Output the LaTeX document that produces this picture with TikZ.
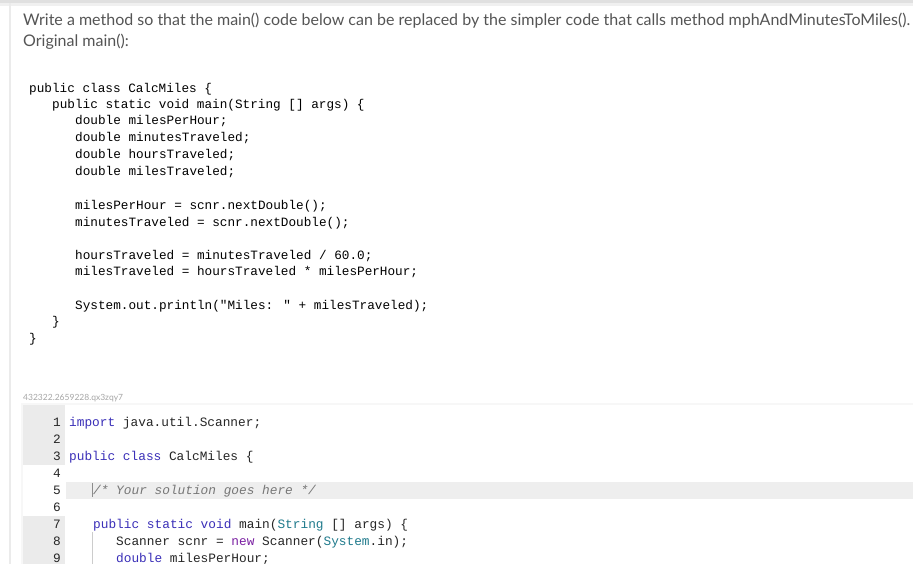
\documentclass[tikz,border=0pt]{standalone}
\usepackage{fontspec}
\setmainfont{Lato}
\newfontfamily\codefont{Liberation Mono}
\definecolor{txtgray}{HTML}{555555}
\definecolor{kw}{HTML}{3A2FB8}
\definecolor{typ}{HTML}{1F7A8C}
\definecolor{newkw}{HTML}{7A1FA2}
\definecolor{cmt}{HTML}{777777}
\definecolor{gut}{HTML}{EBEBEB}
\definecolor{hl}{HTML}{EEEEEE}
\tikzset{
  title/.style={anchor=base west,inner sep=0pt,font=\fontsize{16}{18}\selectfont,text=txtgray},
  code/.style={anchor=base west,inner sep=0pt,font=\codefont\fontsize{12.7}{14}\selectfont,text=black},
  ecode/.style={anchor=base west,inner sep=0pt,font=\codefont\fontsize{12.8}{14}\selectfont,text=black!85},
  lnum/.style={anchor=base east,inner sep=0pt,font=\codefont\fontsize{12.8}{14}\selectfont,text=black!85},
}
\begin{document}
\begin{tikzpicture}[x=1pt,y=-1pt]
\useasboundingbox (0,0) rectangle (913,564);
\fill[white] (0,0) rectangle (913,564);
\fill[black!12] (0,0) rectangle (913,3);
\fill[black!6] (0,3) rectangle (913,6);
\fill[black!8] (9,3) rectangle (11,564);
% title
\node[title] (t1) at (23,26) {Write a method so that the main() code below can be replaced by the simpler code that calls method mphAndMinutesToMiles().};
\node[title] (t2) at (23,47) {Original main():};
% original code
\node[code] (c1) at (29,93) {public class CalcMiles \{};
\node[code] (c2) at (52,109) {public static void main(String [] args) \{};
\node[code] (c3) at (75,125) {double milesPerHour;};
\node[code] (c4) at (75,142) {double minutesTraveled;};
\node[code] (c5) at (75,159) {double hoursTraveled;};
\node[code] (c6) at (75,176) {double milesTraveled;};
\node[code] (c7) at (75,210) {milesPerHour = scnr.nextDouble();};
\node[code] (c8) at (75,226) {minutesTraveled = scnr.nextDouble();};
\node[code] (c9) at (75,259) {hoursTraveled = minutesTraveled / 60.0;};
\node[code] (c10) at (75,275) {milesTraveled = hoursTraveled * milesPerHour;};
\node[code] (c11) at (75,309) {System.out.println("Miles: " + milesTraveled);};
\node[code] (c12) at (52,325) {\}};
\node[code] (c13) at (29,342) {\}};
% id
\node[anchor=base west,inner sep=0pt,font=\fontsize{8.5}{10}\selectfont,text=black!35] (id) at (23,400) {432322.2659228.qx3zqy7};
% editor
\fill[black!3] (21,403) rectangle (913,564);
\fill[white] (23,405) rectangle (913,564);
\fill[gut] (23,405) rectangle (65,464.5);
\fill[gut] (23,515.5) rectangle (65,564);
\fill[hl] (66,481.5) rectangle (913,498.5);
\draw[black!45,line width=0.8pt] (92,483) -- (92,497);
\draw[black!20,line width=0.8pt] (92,532) -- (92,564);
\foreach \n in {1,...,9} {\node[lnum] (n\n) at (61,426+17*\n-17) {\n};}
\node[ecode] (e1) at (69,426) {\textcolor{kw}{import} java.util.Scanner;};
\node[ecode] (e3) at (69,460) {\textcolor{kw}{public} \textcolor{kw}{class} CalcMiles \{};
\node[ecode,text=cmt] (e5) at (93,494) {\itshape /* Your solution goes here  */};
\node[ecode] (e7) at (93,528) {\textcolor{kw}{public} \textcolor{kw}{static} \textcolor{kw}{void} main(\textcolor{typ}{String} [] args) \{};
\node[ecode] (e8) at (116,545) {Scanner scnr = \textcolor{newkw}{new} Scanner(\textcolor{typ}{System}.in);};
\node[ecode] (e9) at (116,562) {\textcolor{kw}{double} milesPerHour;};
\end{tikzpicture}
\end{document}
